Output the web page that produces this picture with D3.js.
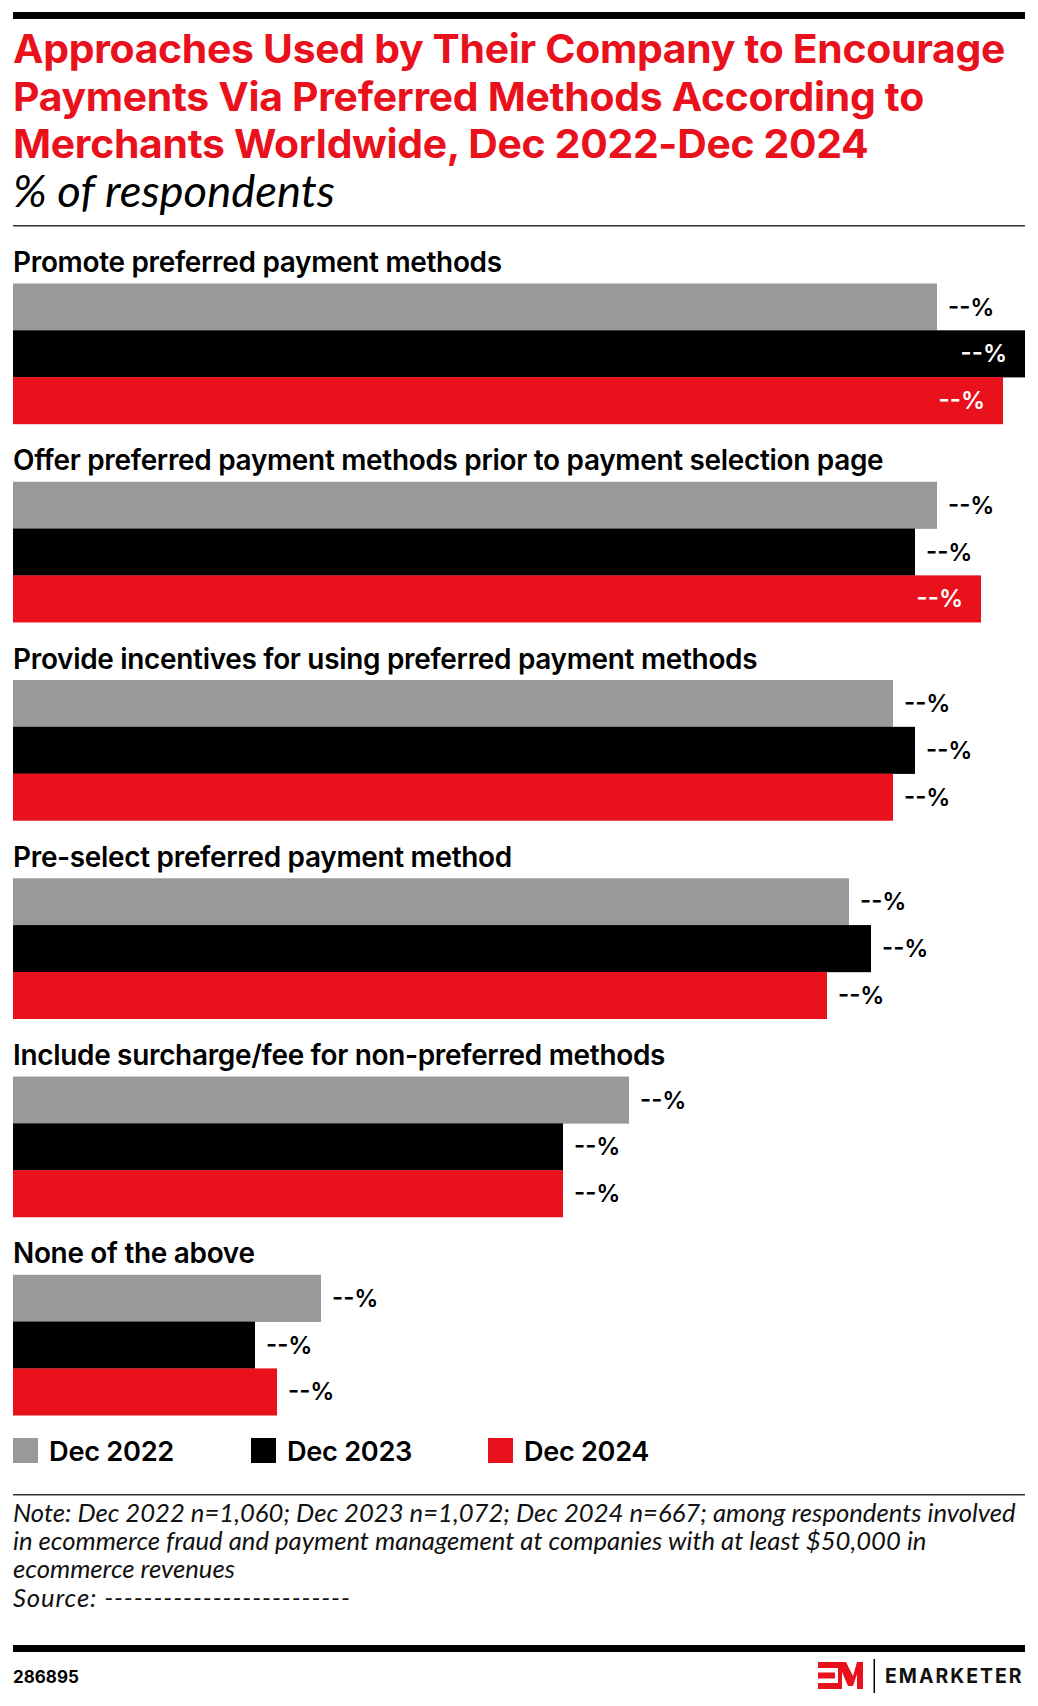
<!DOCTYPE html>
<html><head><meta charset="utf-8">
<script src="https://cdn.jsdelivr.net/npm/d3@7"></script>
<style>body{margin:0;background:#fff}svg{display:block}</style>
</head><body>
<svg id="chart" width="1038" height="1706"></svg>
<script>
const categories = [
  "Promote preferred payment methods",
  "Offer preferred payment methods prior to payment selection page",
  "Provide incentives for using preferred payment methods",
  "Pre-select preferred payment method",
  "Include surcharge/fee for non-preferred methods",
  "None of the above"
];
const seriesNames = ["Dec 2022", "Dec 2023", "Dec 2024"];
const dec2022 = [42, 42, 40, 38, 28, 14];
const dec2023 = [46, 41, 41, 39, 25, 11];
const dec2024 = [45, 44, 40, 37, 25, 12];
const valueLabels = ["--%", "--%", "--%"];
const seriesColors = ["#999999", "#000000", "#e8111c"];
const titleLines = [
  "Approaches Used by Their Company to Encourage",
  "Payments Via Preferred Methods According to",
  "Merchants Worldwide, Dec 2022-Dec 2024"
];
const subtitle = "% of respondents";
const noteLines = [
  "Note: Dec 2022 n=1,060; Dec 2023 n=1,072; Dec 2024 n=667; among respondents involved",
  "in ecommerce fraud and payment management at companies with at least $50,000 in",
  "ecommerce revenues",
  "Source: -------------------------"
];
const chartId = "286895";

const seriesValues = [dec2022, dec2023, dec2024];
const svg = d3.select("#chart");
const HEAD = "Inter, 'Noto Sans', sans-serif";
const BODY = "Lato, 'Open Sans', sans-serif";
const RED = "#e8111c";

function fitWidth(sel, target) {
  const w = sel.node().getComputedTextLength();
  const fs = parseFloat(sel.attr("font-size"));
  const nfs = fs * target / w;
  sel.attr("font-size", nfs);
  return nfs;
}

// top rule
svg.append("rect").attr("x", 13).attr("y", 12).attr("width", 1012).attr("height", 7).attr("fill", "#000");

// title (tall, condensed look: fixed size, compressed to the reference width)
const titleBase = [63, 110.5, 157.5];
const tNodes = titleLines.map((l, i) => svg.append("text").attr("x", 13).attr("y", titleBase[i])
  .attr("font-family", HEAD).attr("font-weight", 700).attr("font-size", 39.5).attr("fill", RED)
  .attr("letter-spacing", -0.3).text(l));
const squeeze = 992 / tNodes[0].node().getComputedTextLength();
tNodes.forEach(t => {
  const w = t.node().getComputedTextLength();
  t.attr("textLength", w * squeeze).attr("lengthAdjust", "spacingAndGlyphs");
});

const st = svg.append("text").attr("x", 13).attr("y", 207).attr("font-family", BODY).attr("font-style", "italic")
  .attr("font-weight", 400).attr("font-size", 36).attr("fill", "#000").text(subtitle);
fitWidth(st, 322);
svg.append("rect").attr("x", 13).attr("y", 225).attr("width", 1012).attr("height", 1.5).attr("fill", "#333");

// scales
const x = d3.scaleLinear().domain([0, d3.max(dec2023)]).range([13, 1025]);
const y0 = d3.scaleBand().domain(categories).range([283.5, 1415.2]).paddingInner(0.2918).paddingOuter(0);
const y1 = d3.scaleBand().domain(seriesNames).range([0, y0.bandwidth()]);

const groups = svg.selectAll("g.grp").data(categories).join("g").attr("class", "grp")
  .attr("transform", d => `translate(0,${y0(d)})`);

// category labels
const catLabels = groups.append("text").attr("x", 13).attr("y", -11.5).attr("font-family", HEAD)
  .attr("font-weight", 600).attr("font-size", 24).attr("fill", "#000").attr("letter-spacing", -0.3).text(d => d);
const targetW = [489, 868, 739, 498, 650, 239];
const ratios = catLabels.nodes().map((n, i) => targetW[i] / n.getComputedTextLength()).sort((a, b) => a - b);
const r = (ratios[2] + ratios[3]) / 2;
catLabels.attr("font-size", 24 * r);

const LABEL_W = 46;
groups.each(function (cat, ci) {
  const g = d3.select(this);
  seriesNames.forEach((s, si) => {
    const v = seriesValues[si][ci];
    const yy = y1(s);
    g.append("rect").attr("x", x(0)).attr("y", yy).attr("width", x(v) - x(0)).attr("height", y1.bandwidth() + 0.3)
      .attr("fill", seriesColors[si]);
    const inside = x(v) + 11 + LABEL_W > 1025;
    const lab = g.append("text").attr("y", yy + y1.bandwidth() / 2).attr("dy", "0.36em")
      .attr("font-family", HEAD).attr("font-weight", 600).attr("font-size", 24)
      .attr("fill", inside ? "#fff" : "#000").text(valueLabels[si]);
    if (inside) lab.attr("x", x(v) - 18).attr("text-anchor", "end");
    else lab.attr("x", x(v) + 11);
  });
});

// legend
const legX = [13, 251, 488];
seriesNames.forEach((s, i) => {
  svg.append("rect").attr("x", legX[i]).attr("y", 1438).attr("width", 25).attr("height", 25).attr("fill", seriesColors[i]);
  const lt = svg.append("text").attr("x", legX[i] + 36).attr("y", 1461).attr("font-family", HEAD).attr("font-weight", 600)
    .attr("font-size", 26).attr("fill", "#000").attr("letter-spacing", -0.3).text(s);
  fitWidth(lt, 125);
});

// note
svg.append("rect").attr("x", 13).attr("y", 1494).attr("width", 1012).attr("height", 1.5).attr("fill", "#333");
const n0 = svg.append("text").attr("x", 13).attr("y", 1522).attr("font-family", BODY).attr("font-style", "italic")
  .attr("font-size", 21).attr("fill", "#111").text(noteLines[0]);
const nfs = fitWidth(n0, 1003);
noteLines.slice(1).forEach((l, i) => {
  const t = svg.append("text").attr("x", 13).attr("y", 1522 + 28.2 * (i + 1)).attr("font-family", BODY).attr("font-style", "italic")
    .attr("font-size", nfs).attr("fill", "#111").text(l);
  if (i === noteLines.length - 2) t.attr("textLength", 337).attr("lengthAdjust", "spacing");
});

// bottom
svg.append("rect").attr("x", 13).attr("y", 1645).attr("width", 1012).attr("height", 7).attr("fill", "#000");
svg.append("text").attr("x", 13).attr("y", 1683).attr("font-family", HEAD).attr("font-weight", 700)
  .attr("font-size", 17).attr("fill", "#000").text(chartId);

// logo
const logo = svg.append("g").attr("transform", "translate(818,1662)");
logo.append("rect").attr("x", 0).attr("y", 0).attr("width", 20).attr("height", 6).attr("fill", RED);
logo.append("rect").attr("x", 0).attr("y", 10.5).attr("width", 17).attr("height", 6).attr("fill", RED);
logo.append("rect").attr("x", 0).attr("y", 21).attr("width", 20).attr("height", 6).attr("fill", RED);
logo.append("path").attr("d", "M20,0 L28,0 L35,14 L39,0 L45,0 L45,27 L39,27 L39,12 L35,24 L30,24 L24,10 L24,27 L20,27 Z")
  .attr("fill", RED);
svg.append("rect").attr("x", 873.5).attr("y", 1659).attr("width", 1.5).attr("height", 34).attr("fill", "#000");
const lg = svg.append("text").attr("x", 885).attr("y", 1683).attr("font-family", HEAD).attr("font-weight", 700)
  .attr("font-size", 18).attr("letter-spacing", 2).attr("fill", "#111").text("EMARKETER");
fitWidth(lg, 140);
</script>
</body></html>
